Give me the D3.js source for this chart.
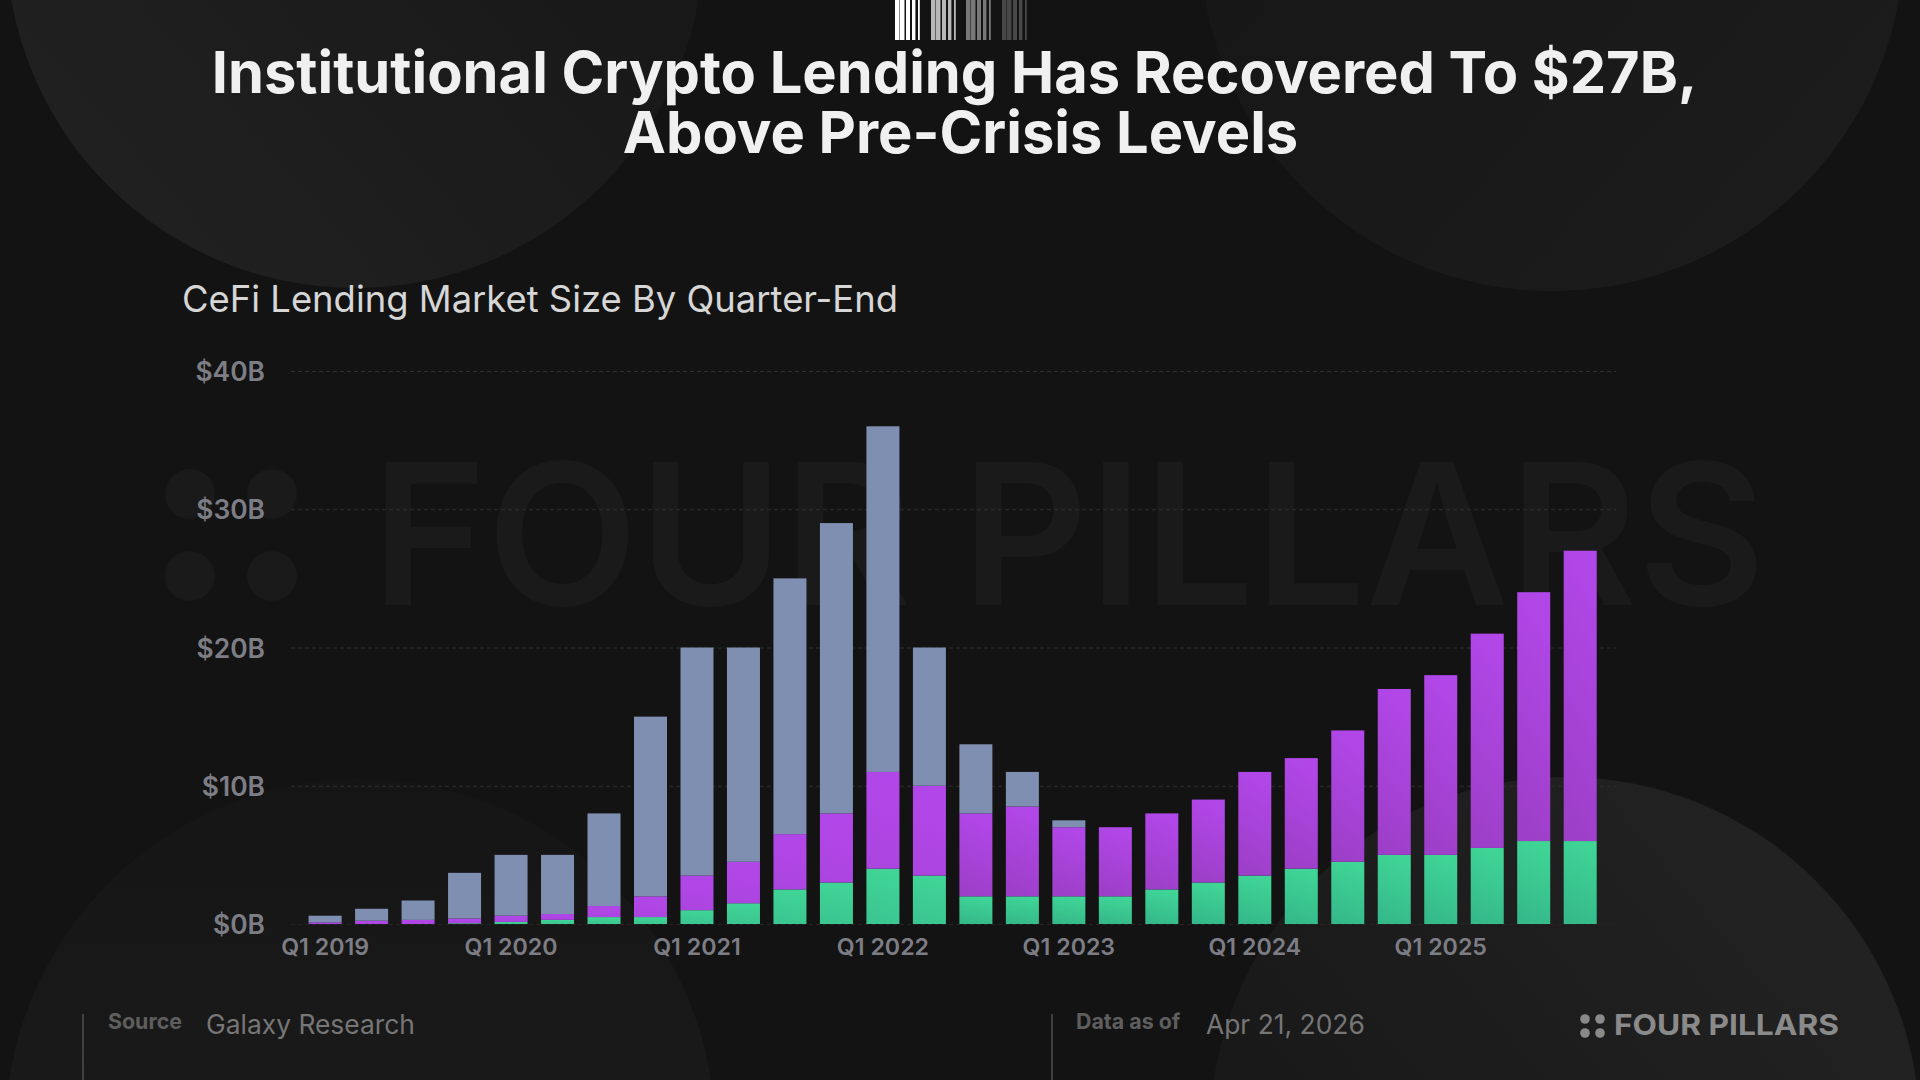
<!DOCTYPE html>
<html>
<head>
<meta charset="utf-8">
<script src="https://cdn.jsdelivr.net/npm/d3@7/dist/d3.min.js"></script>
<style>
  html, body { margin: 0; padding: 0; background: #131313; }
  svg { display: block; font-family: Inter, "Noto Sans", sans-serif; }
</style>
</head>
<body>
<svg id="canvas" width="1920" height="1080"></svg>
<script>
// values in $B
const quarters = ['Q1 2019','Q2 2019','Q3 2019','Q4 2019','Q1 2020','Q2 2020','Q3 2020','Q4 2020',
  'Q1 2021','Q2 2021','Q3 2021','Q4 2021','Q1 2022','Q2 2022','Q3 2022','Q4 2022',
  'Q1 2023','Q2 2023','Q3 2023','Q4 2023','Q1 2024','Q2 2024','Q3 2024','Q4 2024',
  'Q1 2025','Q2 2025','Q3 2025','Q4 2025'];
const greenValues = [0,0,0,0.05,0.15,0.3,0.5,0.5,1,1.5,2.5,3,4,3.5,2,2,2,2,2.5,3,3.5,4,4.5,5,5,5.5,6,6];
const purpleValues = [0.12,0.24,0.3,0.35,0.45,0.42,0.8,1.5,2.5,3,4,5,7,6.5,6,6.5,5,5,5.5,6,7.5,8,9.5,12,13,15.5,18,21];
const blueValues = [0.48,0.86,1.4,3.3,4.4,4.28,6.7,13,16.5,15.5,18.5,21,25,10,5,2.5,0.5,0,0,0,0,0,0,0,0,0,0,0];
const seriesKeys = ['green','purple','blue'];
const yTicks = [0,10,20,30,40];
const xTicks = ['Q1 2019','Q1 2020','Q1 2021','Q1 2022','Q1 2023','Q1 2024','Q1 2025'];

// background decoration: cx, cy, r, light colour, dark colour, gradient direction
const bgCircles = [
    [355, -61, 349, '#212121', '#161616', [0.1, 0.9, 0.9, 0.2]],
    [1552, -61, 352, '#1c1c1c', '#161616', [0.9, 0.9, 0.1, 0.2]],
    [360, 1134, 355, '#1d1d1d', '#151515', [0.5, 0.75, 0.5, 0]],
    [1565, 1132, 355, '#222222', '#191919', [0.8, 0.1, 0.2, 0.6]]
];
const barcodeBars = [[0,4.5],[5,4.5],[11,4],[17,3.4],[23,1.8]];
const barcodeGroups = [[895,'#ffffff'],[931,'#b8b8b8'],[966,'#787878'],[1002,'#484848']];
const logoDots = [[0,0],[1,0],[0,1],[1,1]];
const softBars = 14; // bars before this index look flat in the picture

let canvas = d3.select('#canvas');
let defs = canvas.append('defs');

let addGradient = (id, from, to, dir) => {
    let g = defs.append('linearGradient').attr('id', id)
        .attr('x1', dir[0]).attr('y1', dir[1]).attr('x2', dir[2]).attr('y2', dir[3]);
    g.append('stop').attr('offset', 0).attr('stop-color', from);
    g.append('stop').attr('offset', 1).attr('stop-color', to);
};
bgCircles.forEach((c, i) => addGradient('circle' + i, c[3], c[4], c[5]));
addGradient('purpleFill', '#b247e9', '#9d3fc8', [0.6, 0, 0.4, 1]);
addGradient('purpleSoft', '#b247e9', '#ac45e0', [0.6, 0, 0.4, 1]);
addGradient('greenFill', '#40d596', '#35b98a', [0.6, 0, 0.4, 1]);
addGradient('greenSoft', '#40d596', '#3bc591', [0.6, 0, 0.4, 1]);

canvas.append('rect').attr('width', 1920).attr('height', 1080).attr('fill', '#131313');

canvas.append('g').selectAll('circle')
    .data(bgCircles)
    .enter()
    .append('circle')
    .attr('cx', d => d[0])
    .attr('cy', d => d[1])
    .attr('r', d => d[2])
    .attr('fill', (d, i) => 'url(#circle' + i + ')');

// barcode at the top
let barcode = canvas.append('g').selectAll('g')
    .data(barcodeGroups)
    .enter()
    .append('g')
    .attr('transform', d => 'translate(' + d[0] + ',0)')
    .attr('fill', d => d[1]);
barcode.selectAll('rect')
    .data(barcodeBars)
    .enter()
    .append('rect')
    .attr('x', d => d[0])
    .attr('y', 0)
    .attr('width', d => d[1])
    .attr('height', 40);

// watermark
let watermark = canvas.append('g').attr('fill', '#1a1a1a');
watermark.selectAll('circle')
    .data(logoDots)
    .enter()
    .append('circle')
    .attr('cx', d => 190 + d[0] * 82)
    .attr('cy', d => 494 + d[1] * 82)
    .attr('r', 25);
watermark.append('text')
    .attr('x', 371)
    .attr('y', 605)
    .attr('font-size', 197)
    .attr('font-weight', 600)
    .text('FOUR PILLARS');

// titles, the first line sits a little left of the second
canvas.append('text')
    .attr('text-anchor', 'middle')
    .attr('font-size', 57.8)
    .attr('font-weight', 700)
    .attr('fill', '#f0f0f0')
    .selectAll('tspan')
    .data(['Institutional Crypto Lending Has Recovered To $27B,', 'Above Pre-Crisis Levels'])
    .enter()
    .append('tspan')
    .attr('x', (d, i) => i === 0 ? 954.5 : 960.5)
    .attr('y', (d, i) => 92.5 + i * 60)
    .text(d => d);

canvas.append('text')
    .attr('x', 182)
    .attr('y', 312)
    .attr('font-size', 36.4)
    .attr('fill', '#d6d6d6')
    .text('CeFi Lending Market Size By Quarter-End');

// chart
let xScale = d3.scaleBand()
    .domain(quarters)
    .range([308.6, 1596.7])
    .paddingInner(0.29)
    .paddingOuter(0);
let yScale = d3.scaleLinear()
    .domain([0, 40])
    .range([924, 371]);

let yAxis = d3.axisLeft(yScale)
    .tickValues(yTicks)
    .tickFormat(d => '$' + d + 'B')
    .tickSize(-1325)
    .tickPadding(26);
let yGroup = canvas.append('g')
    .attr('transform', 'translate(291,0)')
    .call(yAxis);
yGroup.select('.domain').remove();
yGroup.selectAll('line')
    .attr('stroke', (d) => d === 0 ? '#242424' : '#2f2f2f')
    .attr('stroke-dasharray', '4,3');
yGroup.selectAll('text')
    .attr('fill', '#7d7d85')
    .attr('dy', '0.36em')
    .style('font-family', 'Inter')
    .style('font-size', '26.4px')
    .style('font-weight', 600);

let table = quarters.map((q, i) => ({ quarter: q, green: greenValues[i], purple: purpleValues[i], blue: blueValues[i] }));
let stacked = d3.stack().keys(seriesKeys)(table);
let seriesFill = (key, i) => {
    if (key === 'blue') return '#7e8fb1';
    return 'url(#' + key + (i < softBars ? 'Soft' : 'Fill') + ')';
};

canvas.append('g').selectAll('g')
    .data(stacked)
    .enter()
    .append('g')
    .selectAll('rect')
    .data(s => s.map(d => ({ d: d, key: s.key })))
    .enter()
    .append('rect')
    .attr('x', e => xScale(e.d.data.quarter))
    .attr('y', e => yScale(e.d[1]))
    .attr('width', xScale.bandwidth())
    .attr('height', e => yScale(e.d[0]) - yScale(e.d[1]))
    .attr('fill', (e, i) => seriesFill(e.key, i));

let xAxis = d3.axisBottom(xScale)
    .tickValues(xTicks)
    .tickSize(0)
    .tickPadding(15);
let xGroup = canvas.append('g')
    .attr('transform', 'translate(0,924)')
    .call(xAxis);
xGroup.select('.domain').remove();
xGroup.selectAll('text')
    .attr('fill', '#7d7d85')
    .style('font-family', 'Inter')
    .style('font-size', '23.2px')
    .style('font-weight', 600);

// footer
canvas.append('g').selectAll('line')
    .data([83, 1052])
    .enter()
    .append('line')
    .attr('x1', d => d).attr('x2', d => d)
    .attr('y1', 1014).attr('y2', 1080)
    .attr('stroke', '#4f4f4f')
    .attr('stroke-width', 1.5);

let footerLabels = [['Source', 108], ['Data as of', 1076]];
let footerValues = [['Galaxy Research', 206], ['Apr 21, 2026', 1206]];
canvas.append('g').selectAll('text')
    .data(footerLabels)
    .enter()
    .append('text')
    .attr('x', d => d[1])
    .attr('y', 1029)
    .attr('font-size', 21.4)
    .attr('font-weight', 700)
    .attr('fill', '#5e5e5e')
    .text(d => d[0]);
canvas.append('g').selectAll('text')
    .data(footerValues)
    .enter()
    .append('text')
    .attr('x', d => d[1])
    .attr('y', 1034)
    .attr('font-size', 26.4)
    .attr('fill', '#767676')
    .text(d => d[0]);

canvas.append('g').attr('fill', '#8a8a8a').selectAll('circle')
    .data(logoDots)
    .enter()
    .append('circle')
    .attr('cx', d => 1585 + d[0] * 15)
    .attr('cy', d => 1019 + d[1] * 14)
    .attr('r', 4.8);
canvas.append('text')
    .attr('x', 1614)
    .attr('y', 1035)
    .attr('font-size', 29)
    .attr('font-weight', 700)
    .attr('fill', '#8a8a8a')
    .attr('textLength', 225)
    .attr('lengthAdjust', 'spacingAndGlyphs')
    .text('FOUR PILLARS');
</script>
</body>
</html>
